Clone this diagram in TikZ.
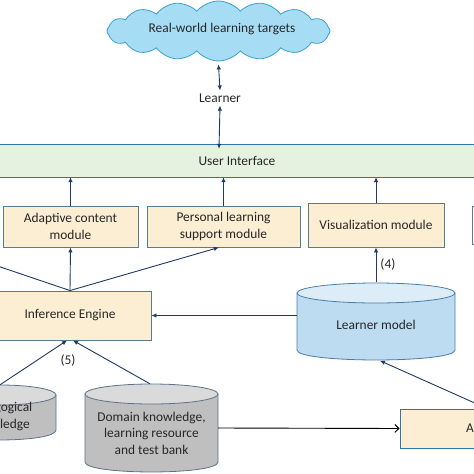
\documentclass[tikz,border=0pt]{standalone}
\usepackage{fontspec}
\setmainfont{Carlito}
\usetikzlibrary{arrows.meta,shapes.symbols,calc}
\definecolor{navy}{HTML}{1F3A68}
\definecolor{txt}{HTML}{262626}
\definecolor{boxfill}{HTML}{FCEED3}
\definecolor{boxdraw}{HTML}{5A7A90}
\definecolor{uifill}{HTML}{E6F2E0}
\definecolor{uitop}{HTML}{2E75B6}
\definecolor{uibot}{HTML}{41708C}
\definecolor{cloudfill}{HTML}{A6DDF4}
\definecolor{clouddraw}{HTML}{3AA0CC}
\definecolor{lmbody}{HTML}{BDDCF1}
\definecolor{lmtop}{HTML}{DCEDF8}
\definecolor{lmdraw}{HTML}{4A7DA8}
\definecolor{dbbody}{HTML}{BFBFBF}
\definecolor{dbtop}{HTML}{DADADA}
\definecolor{dbdraw}{HTML}{5E7287}
\definecolor{ablue}{HTML}{2E75B6}
\begin{document}
\begin{tikzpicture}[x=1pt,y=-1pt,
  font=\fontsize{13.4}{16.5}\selectfont, text=txt,
  modbox/.style={draw=boxdraw, fill=boxfill, line width=0.9pt, align=center, inner sep=0pt},
  plain/.style={inner sep=0pt, align=center},
  anchorbox/.style={inner sep=0pt, draw=none},
  link/.style={draw=navy, line width=0.9pt, -{Latex[length=5pt,width=4.5pt]}},
  dlink/.style={draw=navy, line width=0.9pt, {Latex[length=5pt,width=4.5pt]}-{Latex[length=5pt,width=4.5pt]}},
  bline/.style={draw=navy, line width=0.9pt}
]
\useasboundingbox (0,0) rectangle (474,474);
\clip (0,0) rectangle (474,474);

% cloud
\node[cloud, cloud puffs=16, cloud puff arc=100, aspect=3.6, draw=clouddraw, fill=cloudfill,
      line width=0.8pt, minimum width=223pt, minimum height=60pt, inner sep=0pt] (cloud) at (218.5,31) {};
\node[plain] (cloudtxt) at (222,29) {Real-world learning targets};

\node[plain, inner sep=3pt] (learner) at (220,98) {Learner};

% user interface band
\node[fill=uifill, minimum width=484pt, minimum height=32pt, inner sep=0pt] (ui) at (237,161) {User Interface};
\draw[uitop, line width=1.2pt] (ui.north west) -- (ui.north east);
\draw[uibot, line width=1pt] (ui.south west) -- (ui.south east);

% modules
\node[modbox, minimum width=135pt, minimum height=41pt] (adaptive) at (70.5,226.5) {Adaptive content\\module};
\node[modbox, minimum width=153pt, minimum height=41pt] (personal) at (223.5,226.5) {Personal learning\\support module};
\node[modbox, minimum width=136pt, minimum height=44pt] (vis) at (376,225) {Visualization module};
\node[draw=boxdraw, fill=white, line width=0.9pt, minimum width=68pt, minimum height=38pt, inner sep=0pt] (rbox) at (506,225) {};

\node[modbox, minimum width=162pt, minimum height=49pt] (ie) at (70,315.5) {Inference Engine};
\node[draw=ablue, fill=boxfill, line width=1pt, minimum width=174pt, minimum height=39pt, inner sep=0pt] (abox) at (487,428.5) {};
\node[plain, anchor=west] (atxt) at (466,428) {A};

% learner model cylinder
\fill[lmbody, draw=lmdraw, line width=0.8pt] (297,293) -- (297,350) .. controls (297,363.3) and (455,363.3) .. (455,350) -- (455,293) -- cycle;
\fill[lmtop, draw=lmdraw, line width=0.8pt] (376,293) ellipse [x radius=79, y radius=10];
\node[anchorbox, minimum width=158pt, minimum height=78pt] (lm) at (376,321.5) {};
\node[plain] (lmtxt) at (376,325) {Learner model};

% domain knowledge cylinder
\fill[dbbody, draw=dbdraw, line width=0.8pt] (85,394) -- (85,462) .. controls (85,475.3) and (218,475.3) .. (218,462) -- (218,394) -- cycle;
\fill[dbtop, draw=dbdraw, line width=0.8pt] (151.5,394) ellipse [x radius=66.5, y radius=10];
\node[anchorbox, minimum width=133pt, minimum height=88pt] (dom) at (151.5,428) {};
\node[plain] (domtxt) at (151.5,433) {Domain knowledge,\\learning resource\\and test bank};

% pedagogical knowledge cylinder
\fill[dbbody, draw=dbdraw, line width=0.8pt] (-56,395) -- (-56,430) .. controls (-56,443.3) and (56,443.3) .. (56,430) -- (56,395) -- cycle;
\fill[dbtop, draw=dbdraw, line width=0.8pt] (0,395) ellipse [x radius=56, y radius=10];
\node[anchorbox, minimum width=112pt, minimum height=56pt] (ped) at (0,413) {};
\node[plain] (pedtxt) at (0,416.5) {Pedagogical\\knowledge};

% connectors
\draw[dlink] ($(cloud.south)+(0,3)$) -- (learner.north);
\draw[dlink] (learner.south) -- ($(ui.north)+(-18,4)$);
\coordinate (uiA) at (adaptive.north |- ui.south);
\coordinate (uiP) at (personal.north |- ui.south);
\coordinate (uiV) at (vis.north |- ui.south);
\draw[link] (adaptive.north) -- (uiA);
\draw[link] (personal.north) -- (uiP);
\draw[link] (vis.north) -- (uiV);

\coordinate (pin) at ($(personal.south west)!0.47!(personal.south east)$);
\coordinate (offl) at (-30,256.7);
\draw[link] (ie.north) -- (adaptive.south);
\draw[link] (ie.north) -- (pin);
\draw[bline] (ie.north) -- (offl);

\draw[link] (lm.west |- ie.east) -- (ie.east);
\draw[link] (lm.north) -- node[right=4pt, plain] (l4) {(4)} (vis.south);

\coordinate (ie5a) at ($(ie.south)+(-3,0)$);
\coordinate (ie5b) at ($(ie.south)+(3,0)$);
\draw[link] (ped.north) -- (ie5a);
\draw[link] ($(dom.north)+(-1.5,0)$) -- (ie5b);
\node[plain] (l5) at (68,361) {(5)};

\draw[link] (abox.north) -- ($(lm.south)+(4,0)$);
\draw[black, line width=0.9pt, -{Straight Barb[length=4pt,width=8pt]}] (dom.east) -- (abox.west);
\end{tikzpicture}
\end{document}
